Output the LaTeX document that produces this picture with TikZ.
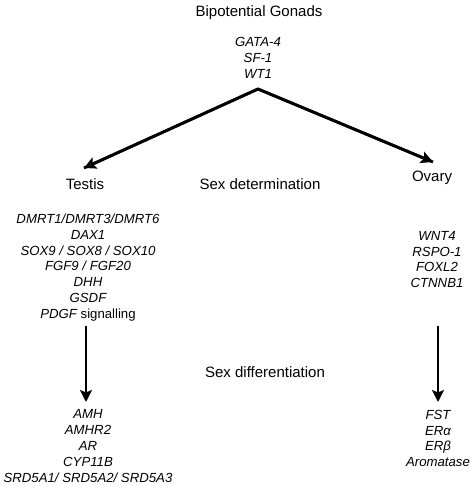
\documentclass[tikz,border=0pt]{standalone}
\usepackage{fontspec}
\setmainfont{Liberation Sans}
\usetikzlibrary{arrows.meta}
\begin{document}
\begin{tikzpicture}[x=1pt,y=-1pt,
  title/.style={font=\fontsize{15}{18}\selectfont, inner sep=0pt},
  genes/.style={font=\fontsize{13.2}{15.8}\selectfont\itshape, align=center, inner sep=0pt},
  arr/.style={line width=2.8pt, -{Stealth[length=12pt,width=12pt,inset=2.5pt]}}]
\useasboundingbox (0,0) rectangle (474,486);
\node[title] (bip) at (259,13) {Bipotential Gonads};
\node[genes] (top) at (258,58) {GATA-4\\SF-1\\WT1};
\coordinate (apex) at (258,89);
\node[title] (testis) at (85,184) {Testis};
\node[title] (ovary) at (432,178) {Ovary};
\node[title] (sdet) at (260,184) {Sex determination};
\coordinate (tipL) at (84,168);
\coordinate (tipR) at (433,162);
\draw[line width=2.8pt, line join=miter] (tipL) -- (apex) -- (tipR);
\draw[arr] (apex) -- (tipL);
\draw[arr] (apex) -- (tipR);
\node[genes] (ldet) at (88,267.5) {DMRT1/DMRT3/DMRT6\\DAX1\\SOX9 / SOX8 / SOX10\\FGF9 / FGF20\\DHH\\GSDF\\PDGF \upshape signalling};
\node[genes] (rdet) at (437,259.5) {WNT4\\RSPO-1\\FOXL2\\CTNNB1};
\node[title] (sdiff) at (265,372) {Sex differentiation};
\node[genes] (ldiff) at (88,446) {AMH\\AMHR2\\AR\\CYP11B\\SRD5A1/ SRD5A2/ SRD5A3};
\node[genes] (rdiff) at (438,438.5) {FST\\ERα\\ERβ\\Aromatase};
\coordinate (lA) at (86,326);
\coordinate (lB) at (86,402);
\coordinate (rA) at (438,326);
\coordinate (rB) at (438,402);
\draw[arr] (lA) -- (lB);
\draw[arr] (rA) -- (rB);
\end{tikzpicture}
\end{document}
